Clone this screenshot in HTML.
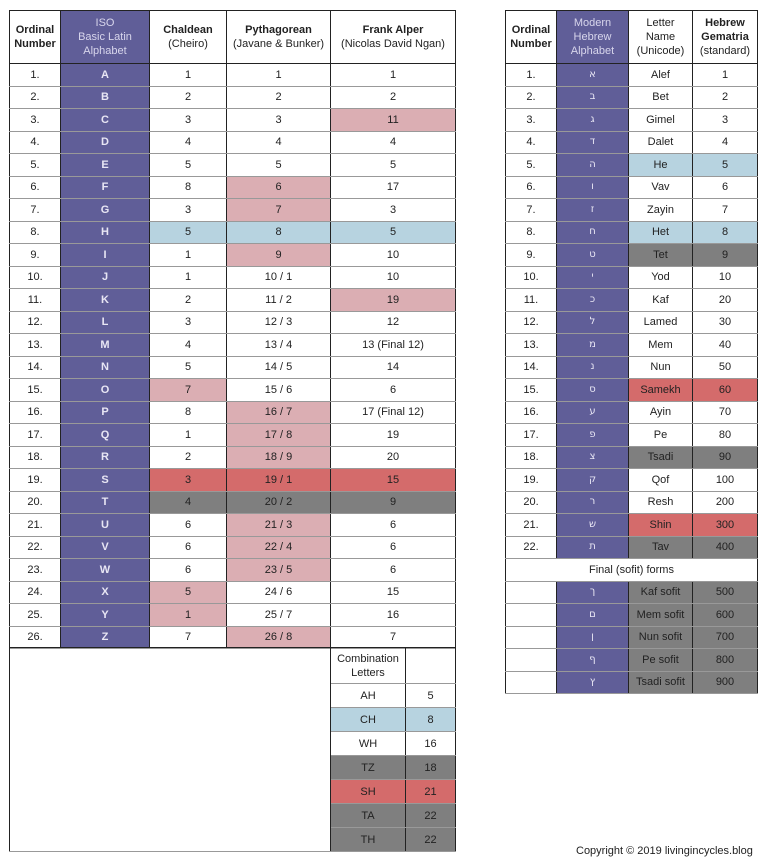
<!DOCTYPE html>
<html><head><meta charset="utf-8"><style>
body{margin:0;width:768px;height:867px;background:#fff;position:relative;font-family:"Liberation Sans",Arial,sans-serif;font-size:11px;color:#222;overflow:hidden}
table{position:absolute;border-collapse:collapse;table-layout:fixed}
td{border-left:1px solid #222;border-right:1px solid #222;border-top:1px solid #999;border-bottom:1px solid #999;text-align:center;padding:0;height:21.5px;line-height:12px;white-space:nowrap;overflow:hidden}
tr.h td{height:52px;border-top:1px solid #222;border-bottom:1px solid #222;font-size:11px;line-height:14px}
.u{background:#605e98;color:#e8e6f4;font-weight:bold}
.uh{background:#605e98;color:#d8d6ec}
.p{background:#dbaeb3}.b{background:#b7d3e0}.r{background:#d46b6b}.g{background:#7f7f7f}
b{font-weight:bold}
.heb{font-family:"DejaVu Sans",sans-serif;font-size:10px;font-weight:normal}
table.main{border:1px solid #222}
</style></head><body>
<table class="main" style="left:9px;top:10px;width:446px">
<colgroup><col style="width:51px"><col style="width:89px"><col style="width:77px"><col style="width:104px"><col style="width:125px"></colgroup>
<tr class="h"><td><b>Ordinal<br>Number</b></td><td class="uh">ISO<br>Basic Latin<br>Alphabet</td><td><b>Chaldean</b><br>(Cheiro)</td><td><b>Pythagorean</b><br>(Javane &amp; Bunker)</td><td><b>Frank Alper</b><br>(Nicolas David Ngan)</td></tr>
<tr><td>1.</td><td class="u">A</td><td>1</td><td>1</td><td>1</td></tr>
<tr><td>2.</td><td class="u">B</td><td>2</td><td>2</td><td>2</td></tr>
<tr><td>3.</td><td class="u">C</td><td>3</td><td>3</td><td class="p">11</td></tr>
<tr><td>4.</td><td class="u">D</td><td>4</td><td>4</td><td>4</td></tr>
<tr><td>5.</td><td class="u">E</td><td>5</td><td>5</td><td>5</td></tr>
<tr><td>6.</td><td class="u">F</td><td>8</td><td class="p">6</td><td>17</td></tr>
<tr><td>7.</td><td class="u">G</td><td>3</td><td class="p">7</td><td>3</td></tr>
<tr><td>8.</td><td class="u">H</td><td class="b">5</td><td class="b">8</td><td class="b">5</td></tr>
<tr><td>9.</td><td class="u">I</td><td>1</td><td class="p">9</td><td>10</td></tr>
<tr><td>10.</td><td class="u">J</td><td>1</td><td>10 / 1</td><td>10</td></tr>
<tr><td>11.</td><td class="u">K</td><td>2</td><td>11 / 2</td><td class="p">19</td></tr>
<tr><td>12.</td><td class="u">L</td><td>3</td><td>12 / 3</td><td>12</td></tr>
<tr><td>13.</td><td class="u">M</td><td>4</td><td>13 / 4</td><td>13 (Final 12)</td></tr>
<tr><td>14.</td><td class="u">N</td><td>5</td><td>14 / 5</td><td>14</td></tr>
<tr><td>15.</td><td class="u">O</td><td class="p">7</td><td>15 / 6</td><td>6</td></tr>
<tr><td>16.</td><td class="u">P</td><td>8</td><td class="p">16 / 7</td><td>17 (Final 12)</td></tr>
<tr><td>17.</td><td class="u">Q</td><td>1</td><td class="p">17 / 8</td><td>19</td></tr>
<tr><td>18.</td><td class="u">R</td><td>2</td><td class="p">18 / 9</td><td>20</td></tr>
<tr><td>19.</td><td class="u">S</td><td class="r">3</td><td class="r">19 / 1</td><td class="r">15</td></tr>
<tr><td>20.</td><td class="u">T</td><td class="g">4</td><td class="g">20 / 2</td><td class="g">9</td></tr>
<tr><td>21.</td><td class="u">U</td><td>6</td><td class="p">21 / 3</td><td>6</td></tr>
<tr><td>22.</td><td class="u">V</td><td>6</td><td class="p">22 / 4</td><td>6</td></tr>
<tr><td>23.</td><td class="u">W</td><td>6</td><td class="p">23 / 5</td><td>6</td></tr>
<tr><td>24.</td><td class="u">X</td><td class="p">5</td><td>24 / 6</td><td>15</td></tr>
<tr><td>25.</td><td class="u">Y</td><td class="p">1</td><td>25 / 7</td><td>16</td></tr>
<tr><td>26.</td><td class="u">Z</td><td>7</td><td class="p">26 / 8</td><td>7</td></tr>
</table>
<table class="main" style="left:9px;top:647px;width:446px">
<colgroup><col style="width:321px"><col style="width:75px"><col style="width:50px"></colgroup>
<tr><td rowspan="8" style="border-top:1px solid #222"></td><td style="height:35px;line-height:14px;border-top:1px solid #222">Combination<br>Letters</td><td style="border-top:1px solid #222"></td></tr>
<tr><td style="height:23px">AH</td><td>5</td></tr>
<tr><td style="height:23px" class="b">CH</td><td class="b">8</td></tr>
<tr><td style="height:23px">WH</td><td>16</td></tr>
<tr><td style="height:23px" class="g">TZ</td><td class="g">18</td></tr>
<tr><td style="height:23px" class="r">SH</td><td class="r">21</td></tr>
<tr><td style="height:23px" class="g">TA</td><td class="g">22</td></tr>
<tr><td style="height:23px" class="g">TH</td><td class="g">22</td></tr>
</table>
<table class="main" style="left:505px;top:10px;width:252px">
<colgroup><col style="width:51px"><col style="width:72px"><col style="width:64px"><col style="width:65px"></colgroup>
<tr class="h"><td><b>Ordinal<br>Number</b></td><td class="uh">Modern<br>Hebrew<br>Alphabet</td><td>Letter<br>Name<br>(Unicode)</td><td><b>Hebrew<br>Gematria</b><br>(standard)</td></tr>
<tr><td>1.</td><td class="u heb">א</td><td>Alef</td><td>1</td></tr>
<tr><td>2.</td><td class="u heb">ב</td><td>Bet</td><td>2</td></tr>
<tr><td>3.</td><td class="u heb">ג</td><td>Gimel</td><td>3</td></tr>
<tr><td>4.</td><td class="u heb">ד</td><td>Dalet</td><td>4</td></tr>
<tr><td>5.</td><td class="u heb">ה</td><td class="b">He</td><td class="b">5</td></tr>
<tr><td>6.</td><td class="u heb">ו</td><td>Vav</td><td>6</td></tr>
<tr><td>7.</td><td class="u heb">ז</td><td>Zayin</td><td>7</td></tr>
<tr><td>8.</td><td class="u heb">ח</td><td class="b">Het</td><td class="b">8</td></tr>
<tr><td>9.</td><td class="u heb">ט</td><td class="g">Tet</td><td class="g">9</td></tr>
<tr><td>10.</td><td class="u heb">י</td><td>Yod</td><td>10</td></tr>
<tr><td>11.</td><td class="u heb">כ</td><td>Kaf</td><td>20</td></tr>
<tr><td>12.</td><td class="u heb">ל</td><td>Lamed</td><td>30</td></tr>
<tr><td>13.</td><td class="u heb">מ</td><td>Mem</td><td>40</td></tr>
<tr><td>14.</td><td class="u heb">נ</td><td>Nun</td><td>50</td></tr>
<tr><td>15.</td><td class="u heb">ס</td><td class="r">Samekh</td><td class="r">60</td></tr>
<tr><td>16.</td><td class="u heb">ע</td><td>Ayin</td><td>70</td></tr>
<tr><td>17.</td><td class="u heb">פ</td><td>Pe</td><td>80</td></tr>
<tr><td>18.</td><td class="u heb">צ</td><td class="g">Tsadi</td><td class="g">90</td></tr>
<tr><td>19.</td><td class="u heb">ק</td><td>Qof</td><td>100</td></tr>
<tr><td>20.</td><td class="u heb">ר</td><td>Resh</td><td>200</td></tr>
<tr><td>21.</td><td class="u heb">ש</td><td class="r">Shin</td><td class="r">300</td></tr>
<tr><td>22.</td><td class="u heb">ת</td><td class="g">Tav</td><td class="g">400</td></tr>
<tr><td colspan="4">Final (sofit) forms</td></tr>
<tr><td></td><td class="u heb">ך</td><td class="g">Kaf sofit</td><td class="g">500</td></tr>
<tr><td></td><td class="u heb">ם</td><td class="g">Mem sofit</td><td class="g">600</td></tr>
<tr><td></td><td class="u heb">ן</td><td class="g">Nun sofit</td><td class="g">700</td></tr>
<tr><td></td><td class="u heb">ף</td><td class="g">Pe sofit</td><td class="g">800</td></tr>
<tr><td></td><td class="u heb">ץ</td><td class="g">Tsadi sofit</td><td class="g">900</td></tr>
</table>
<div style="position:absolute;left:576px;top:845px;font-size:11px;color:#222;white-space:nowrap">Copyright © 2019 livingincycles.blog</div>
</body></html>
